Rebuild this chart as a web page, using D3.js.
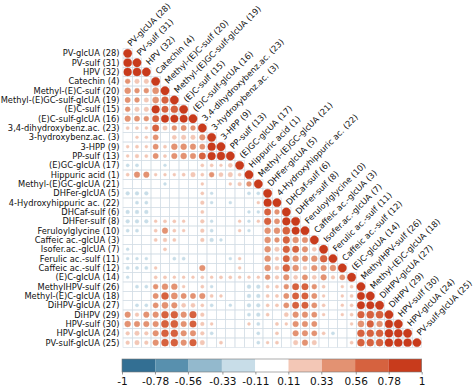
<!DOCTYPE html>
<html>
<head>
<meta charset="utf-8">
<script src="https://cdn.jsdelivr.net/npm/d3@7"></script>
<style>
  body { margin: 0; background: #fff; }
  text { font-family: "DejaVu Sans", sans-serif; fill: #111; }
</style>
</head>
<body>
<div id="chart"></div>
<script>
// variable names, same order for rows and the diagonal
const variables = [
  "PV-glcUA (28)", "PV-sulf (31)", "HPV (32)", "Catechin (4)",
  "Methyl-(E)C-sulf (20)", "Methyl-(E)GC-sulf-glcUA (19)", "(E)C-sulf (15)",
  "(E)C-sulf-glcUA (16)", "3,4-dihydroxybenz.ac. (23)", "3-hydroxybenz.ac. (3)",
  "3-HPP (9)", "PP-sulf (13)", "(E)GC-glcUA (17)", "Hippuric acid (1)",
  "Methyl-(E)GC-glcUA (21)", "DHFer-glcUA (5)", "4-Hydroxyhippuric ac. (22)",
  "DHCaf-sulf (6)", "DHFer-sulf (8)", "Feruloylglycine (10)", "Caffeic ac.-glcUA (3)",
  "Isofer.ac.-glcUA (7)", "Ferulic ac.-sulf (11)", "Caffeic ac.-sulf (12)",
  "(E)C-glcUA (14)", "MethylHPV-sulf (26)", "Methyl-(E)C-glcUA (18)",
  "DiHPV-glcUA (27)", "DiHPV (29)", "HPV-sulf (30)", "HPV-glcUA (24)", "PV-sulf-glcUA (25)"
];

// lower triangle of the correlation matrix, row by row (diagonal = 1)
const corrRows = [
  [1],
  [0.93, 1],
  [0.88, 0.9, 1],
  [0.35, 0.3, 0.3, 1],
  [0.5, 0.35, 0.35, 0.55, 1],
  [0.4, 0.35, 0.3, 0.55, 0.65, 1],
  [0.35, 0.3, 0.3, 0.85, 0.6, 0.7, 1],
  [0.45, 0.4, 0.35, 0.6, 0.8, 0.8, 0.8, 1],
  [0.15, 0.15, 0.12, 0.6, 0.3, 0.35, 0.4, 0.35, 1],
  [0, 0.12, 0.12, 0.4, 0, 0.25, 0.3, 0.3, 0.45, 1],
  [0.12, 0.15, 0.12, 0.4, 0.15, 0.5, 0.5, 0.45, 0.4, 0.85, 1],
  [0.12, 0.2, 0.15, 0.4, 0.15, 0.45, 0.5, 0.45, 0.6, 0.85, 0.88, 1],
  [-0.15, -0.15, 0, 0, -0.12, 0, 0, 0, 0.15, 0.15, 0.12, 0.25, 1],
  [0.15, 0.45, 0.45, 0.12, 0.12, 0.12, 0.15, 0.3, 0.15, 0.35, 0.25, 0.3, 0.15, 1],
  [0, 0, 0, 0, -0.12, 0, 0, 0, 0.12, 0, 0, 0.12, 0.2, 0.35, 1],
  [-0.2, -0.2, -0.2, 0, 0, 0, 0, 0, 0.15, -0.12, 0, 0, 0, -0.15, -0.15, 1],
  [0, -0.15, -0.15, 0, 0, 0, 0, 0, 0.2, -0.12, 0, -0.12, 0, 0, 0.12, 0.85, 1],
  [-0.2, -0.2, -0.2, 0, 0, 0, 0, 0, 0.15, 0, 0, 0, 0, -0.12, -0.12, 0.6, 0.35, 1],
  [-0.2, -0.2, -0.2, 0.12, 0.15, 0.15, 0.12, 0, 0.2, -0.12, 0, 0, 0.12, -0.12, 0.12, 0.65, 0.4, 0.85, 1],
  [-0.15, -0.15, 0, 0.15, 0.45, 0.15, 0.12, 0, 0.2, -0.15, 0, 0, 0.12, -0.12, 0, 0.5, 0.5, 0.75, 0.8, 1],
  [0, 0, 0, 0.15, 0.2, 0.15, 0, 0, 0.2, -0.2, -0.12, 0, 0, 0, 0, 0.5, 0.35, 0.65, 0.5, 0.45, 1],
  [-0.12, 0, 0, 0, 0.15, 0, 0, 0, 0, 0, 0, 0, 0, 0, 0, 0.5, 0.3, 0.65, 0.6, 0.45, 0.25, 1],
  [-0.12, -0.12, -0.12, 0, 0, -0.15, -0.15, 0, 0, 0, 0, -0.12, 0.12, 0, 0, 0.5, 0.2, 0.6, 0.5, 0.45, 0.5, 0.7, 1],
  [-0.15, -0.15, -0.15, 0.12, 0, 0, 0, 0, 0.45, 0, 0, 0, 0.12, 0, 0, 0.5, 0.25, 0.7, 0.5, 0.25, 0.45, 0.45, 0.5, 1],
  [-0.12, 0, 0, 0.15, 0.15, 0.12, 0.12, 0.12, 0.15, 0.12, 0.15, 0.15, 0.12, 0.12, 0.12, 0.35, 0.2, 0.45, 0.25, 0.4, 0.25, 0.45, 0.2, 0.4, 1],
  [0, -0.15, -0.15, 0.35, 0.5, 0.5, 0.12, 0, 0.15, -0.12, 0, 0, 0, -0.2, -0.2, 0.15, 0.15, 0.35, 0.6, 0.6, 0.35, 0.15, 0, 0.12, 0.15, 1],
  [0, 0, 0, 0.4, 0.7, 0.55, 0.4, 0.4, 0.45, 0.15, 0.12, 0, 0, -0.2, -0.2, 0.15, 0.15, 0.4, 0.6, 0.6, 0.4, 0.12, 0, 0.12, 0.15, 0.8, 1],
  [0, -0.15, -0.15, 0.4, 0.55, 0.45, 0.25, 0.25, 0.15, -0.15, 0, -0.12, 0, -0.2, -0.2, 0.15, 0.15, 0.4, 0.6, 0.6, 0.4, 0.15, 0, 0.12, 0.15, 0.8, 0.8, 1],
  [0.45, 0.2, 0.45, 0.45, 0.7, 0.7, 0.45, 0.65, 0.2, 0, 0, 0, 0, -0.15, -0.2, 0.15, 0, 0.25, 0.45, 0.45, 0.4, 0.12, 0, 0.12, 0.15, 0.65, 0.75, 0.75, 1],
  [0.5, 0.45, 0.45, 0.45, 0.75, 0.75, 0.45, 0.6, 0.2, 0.12, 0, 0, 0, 0.12, -0.15, 0, 0.15, 0.12, 0.45, 0.45, 0.4, 0, 0, 0, 0.12, 0.55, 0.65, 0.5, 0.85, 1],
  [0.2, 0.3, 0.2, 0.45, 0.7, 0.7, 0.45, 0.45, 0.2, -0.15, 0, 0, 0, 0, -0.15, 0, 0.15, 0, 0.45, 0.45, 0.4, 0.15, -0.15, 0, 0, 0.7, 0.7, 0.7, 0.9, 0.9, 1],
  [0.2, 0.3, 0.2, 0.45, 0.7, 0.7, 0.45, 0.65, 0.3, 0, 0.15, 0, 0, 0, -0.15, 0.12, 0.15, 0, 0.3, 0.45, 0.3, 0, 0, 0, 0.15, 0.7, 0.7, 0.7, 0.9, 0.9, 0.9, 1]
];

// colour bins of the legend, from -1 to 1
const binColors = ["#336f93", "#5890ae", "#93b9cd", "#c8dde8", "#ffffff",
                   "#f3c7b6", "#e39272", "#d6623f", "#c83b1c"];
const legendTicks = [-1, -0.78, -0.56, -0.33, -0.11, 0.11, 0.33, 0.56, 0.78, 1];

const W = 474, H = 391;
const svg = d3.select("#chart").append("svg")
    .attr("width", W)
    .attr("height", H);

// grid scales
const x = d3.scaleBand().domain(variables).range([123, 421.6]);
const y = d3.scaleBand().domain(variables).range([48.7, 347.3]);
const bw = x.bandwidth();
const radius = d3.scaleSqrt().domain([0, 1]).range([0, 0.45 * bw]);
const color = d3.scaleQuantize().domain([-1, 1]).range(binColors);

// flatten lower triangle into cells
const cells = [];
corrRows.forEach((row, i) => {
    row.forEach((v, j) => cells.push({row: variables[i], col: variables[j], value: v}));
});

// cell borders
svg.append("g")
    .selectAll("rect")
    .data(cells)
    .join("rect")
    .attr("x", d => x(d.col))
    .attr("y", d => y(d.row))
    .attr("width", bw)
    .attr("height", bw)
    .attr("fill", "none")
    .attr("stroke", "#d3dde5")
    .attr("stroke-width", 0.6);

// circles
svg.append("g")
    .selectAll("circle")
    .data(cells.filter(d => d.value !== 0))
    .join("circle")
    .attr("cx", d => x(d.col) + bw / 2)
    .attr("cy", d => y(d.row) + bw / 2)
    .attr("r", d => radius(Math.abs(d.value)))
    .attr("fill", d => color(d.value))
    .attr("stroke", d => color(d.value))
    .attr("stroke-width", 0.4);

// row labels on the left
svg.append("g")
    .selectAll("text")
    .data(variables)
    .join("text")
    .attr("x", 119.5)
    .attr("y", d => y(d) + bw / 2)
    .attr("dy", "0.36em")
    .attr("text-anchor", "end")
    .style("font-size", "8.3px")
    .text(d => d);

// diagonal labels, starting just above-right of each diagonal circle
svg.append("g")
    .selectAll("text")
    .data(variables)
    .join("text")
    .attr("transform", d => `translate(${x(d) + bw * 0.85},${y(d) - bw * 0.2}) rotate(-45)`)
    .attr("text-anchor", "start")
    .style("font-size", "8.3px")
    .text(d => d);

// colour legend
const lx = d3.scaleLinear().domain([-1, 1]).range([122, 421.7]);
const bins = binColors.map((c, i) => ({c: c, x0: -1 + i * 2 / 9, x1: -1 + (i + 1) * 2 / 9}));
const legend = svg.append("g");
legend.selectAll("rect")
    .data(bins)
    .join("rect")
    .attr("x", d => lx(d.x0))
    .attr("y", 359)
    .attr("width", d => lx(d.x1) - lx(d.x0))
    .attr("height", 13)
    .attr("fill", d => d.c);
legend.append("rect")
    .attr("x", lx(-1))
    .attr("y", 359)
    .attr("width", lx(1) - lx(-1))
    .attr("height", 13)
    .attr("fill", "none")
    .attr("stroke", "#777")
    .attr("stroke-width", 0.6);

const axis = legend.append("g")
    .attr("transform", "translate(0,372)")
    .call(d3.axisBottom(lx)
        .tickValues(legendTicks)
        .tickFormat(d => String(d))
        .tickSize(2.5)
        .tickPadding(3));
axis.select(".domain").remove();
axis.selectAll("line").attr("stroke", "#555").attr("stroke-width", 0.6);
axis.selectAll("text")
    .style("font-size", "10.5px")
    .style("font-family", "DejaVu Sans, sans-serif")
    .attr("fill", "#111");
</script>
</body>
</html>
